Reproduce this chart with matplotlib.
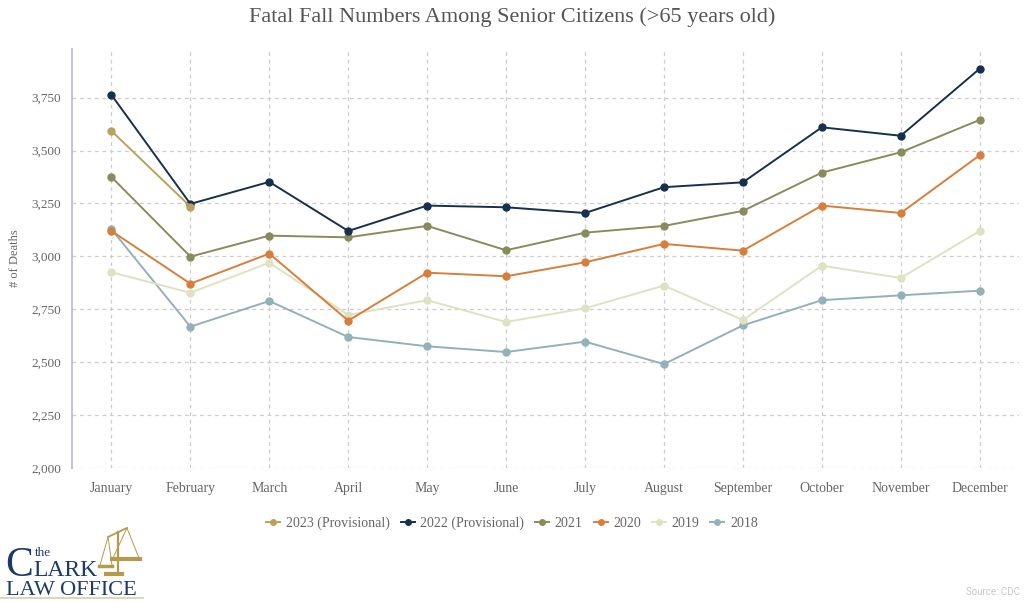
#!/usr/bin/env python3

import matplotlib
matplotlib.use("Agg")
import matplotlib.pyplot as plt
from matplotlib.lines import Line2D
from matplotlib.ticker import FuncFormatter

# data
months = ["January", "February", "March", "April", "May", "June",
          "July", "August", "September", "October", "November", "December"]

deaths_2023 = [3593, 3235]
deaths_2022 = [3763, 3248, 3352, 3120, 3240, 3232, 3205, 3327, 3350, 3610, 3570, 3887]
deaths_2021 = [3375, 2999, 3098, 3090, 3144, 3029, 3112, 3144, 3215, 3396, 3492, 3645]
deaths_2020 = [3120, 2871, 3013, 2696, 2923, 2906, 2972, 3059, 3027, 3240, 3205, 3478]
deaths_2019 = [2925, 2828, 2970, 2723, 2793, 2690, 2755, 2862, 2699, 2956, 2898, 3120]
deaths_2018 = [3128, 2668, 2789, 2619, 2575, 2548, 2597, 2491, 2674, 2793, 2816, 2838]

series_labels = ["2023 (Provisional)", "2022 (Provisional)", "2021", "2020", "2019", "2018"]
series_colors = ["#b9a25b", "#16304f", "#8a8b5d", "#d77f3a", "#dfe2c2", "#93b1b8"]
y_ticks = [2000, 2250, 2500, 2750, 3000, 3250, 3500, 3750]

serif = ["Liberation Serif", "DejaVu Serif"]
grey = "#666666"

fig = plt.figure(figsize=(10.24, 6.02), dpi=100)
ax = fig.add_axes([0.0703, 0.2226, 0.925, 0.696])

all_series = [deaths_2023, deaths_2022, deaths_2021, deaths_2020, deaths_2019, deaths_2018]
# draw oldest first so the newest years sit on top
for vals, lab, col in reversed(list(zip(all_series, series_labels, series_colors))):
    ax.plot(range(len(vals)), vals, color=col, lw=1.4, marker="o", ms=5, label=lab, zorder=3)

ax.set_xlim(-0.5, 11.5)
ax.set_ylim(2000, 3980)
ax.set_xticks(range(len(months)))
ax.set_xticklabels(months, fontfamily=serif, fontsize=10, color=grey)
ax.set_yticks(y_ticks)
ax.yaxis.set_major_formatter(FuncFormatter(lambda v, p: f"{int(v):,}"))
for t in ax.get_yticklabels():
    t.set_fontfamily(serif)
    t.set_fontsize(9.5)
    t.set_color(grey)
ax.tick_params(length=0, pad=10)
ax.tick_params(axis="y", pad=8)

ax.grid(True, ls=(0, (3, 3)), color="#cccccc", lw=0.9)
for s in ["top", "right", "bottom"]:
    ax.spines[s].set_visible(False)
ax.spines["left"].set_color("#c3c7cd")
ax.spines["left"].set_linewidth(1.5)

ax.set_ylabel("# of Deaths", fontfamily=serif, fontsize=9, color=grey, labelpad=7)

fig.text(0.5, 0.972, "Fatal Fall Numbers Among Senior Citizens (>65 years old)",
         ha="center", va="center", fontfamily=serif, fontsize=16, color="#555555")

handles = [Line2D([0], [0], color=c, lw=1.4, marker="o", ms=4) for c in series_colors]
fig.legend(handles, series_labels, loc="center", bbox_to_anchor=(0.5, 0.131), ncol=6,
           frameon=False, prop={"family": serif, "size": 10}, labelcolor=grey,
           handlelength=1.0, handletextpad=0.4, columnspacing=0.8)

# logo
navy = "#1d3a6b"
gold = "#b59a4e"
fig.text(0.005, 0.044, "C", fontfamily=serif, fontsize=30, color=navy, va="baseline")
fig.text(0.033, 0.044, "LARK", fontfamily=serif, fontsize=17, color=navy, va="baseline")
fig.text(0.034, 0.076, "the", fontfamily=serif, fontsize=9.5, color=navy, va="baseline")
fig.text(0.006, 0.012, "LAW OFFICE", fontfamily=serif, fontsize=16, color=navy, va="baseline")
fig.add_artist(Line2D([0.0, 0.140], [0.006, 0.006], color="#d8cfa8", lw=1.2))
# small scales of justice
fig.add_artist(Line2D([0.1152, 0.1152], [0.0498, 0.1163], color=gold, lw=1.6))
fig.add_artist(Line2D([0.1035, 0.119], [0.0465, 0.0465], color=gold, lw=3))
fig.add_artist(Line2D([0.1055, 0.124], [0.108, 0.123], color=gold, lw=1.3))
fig.add_artist(Line2D([0.0977, 0.1055, 0.1094], [0.0615, 0.108, 0.0615], color=gold, lw=0.7))
fig.add_artist(Line2D([0.1104, 0.124, 0.1357], [0.0731, 0.123, 0.0731], color=gold, lw=0.7))
fig.add_artist(Line2D([0.0967, 0.1094], [0.0600, 0.0600], color=gold, lw=2.5))
fig.add_artist(Line2D([0.1094, 0.1367], [0.0715, 0.0715], color=gold, lw=3))

fig.text(0.996, 0.008, "Source: CDC", ha="right", va="bottom", fontfamily="Roboto",
         fontsize=7, color="#c8c8c8")

fig.savefig("out.png", dpi=100)
